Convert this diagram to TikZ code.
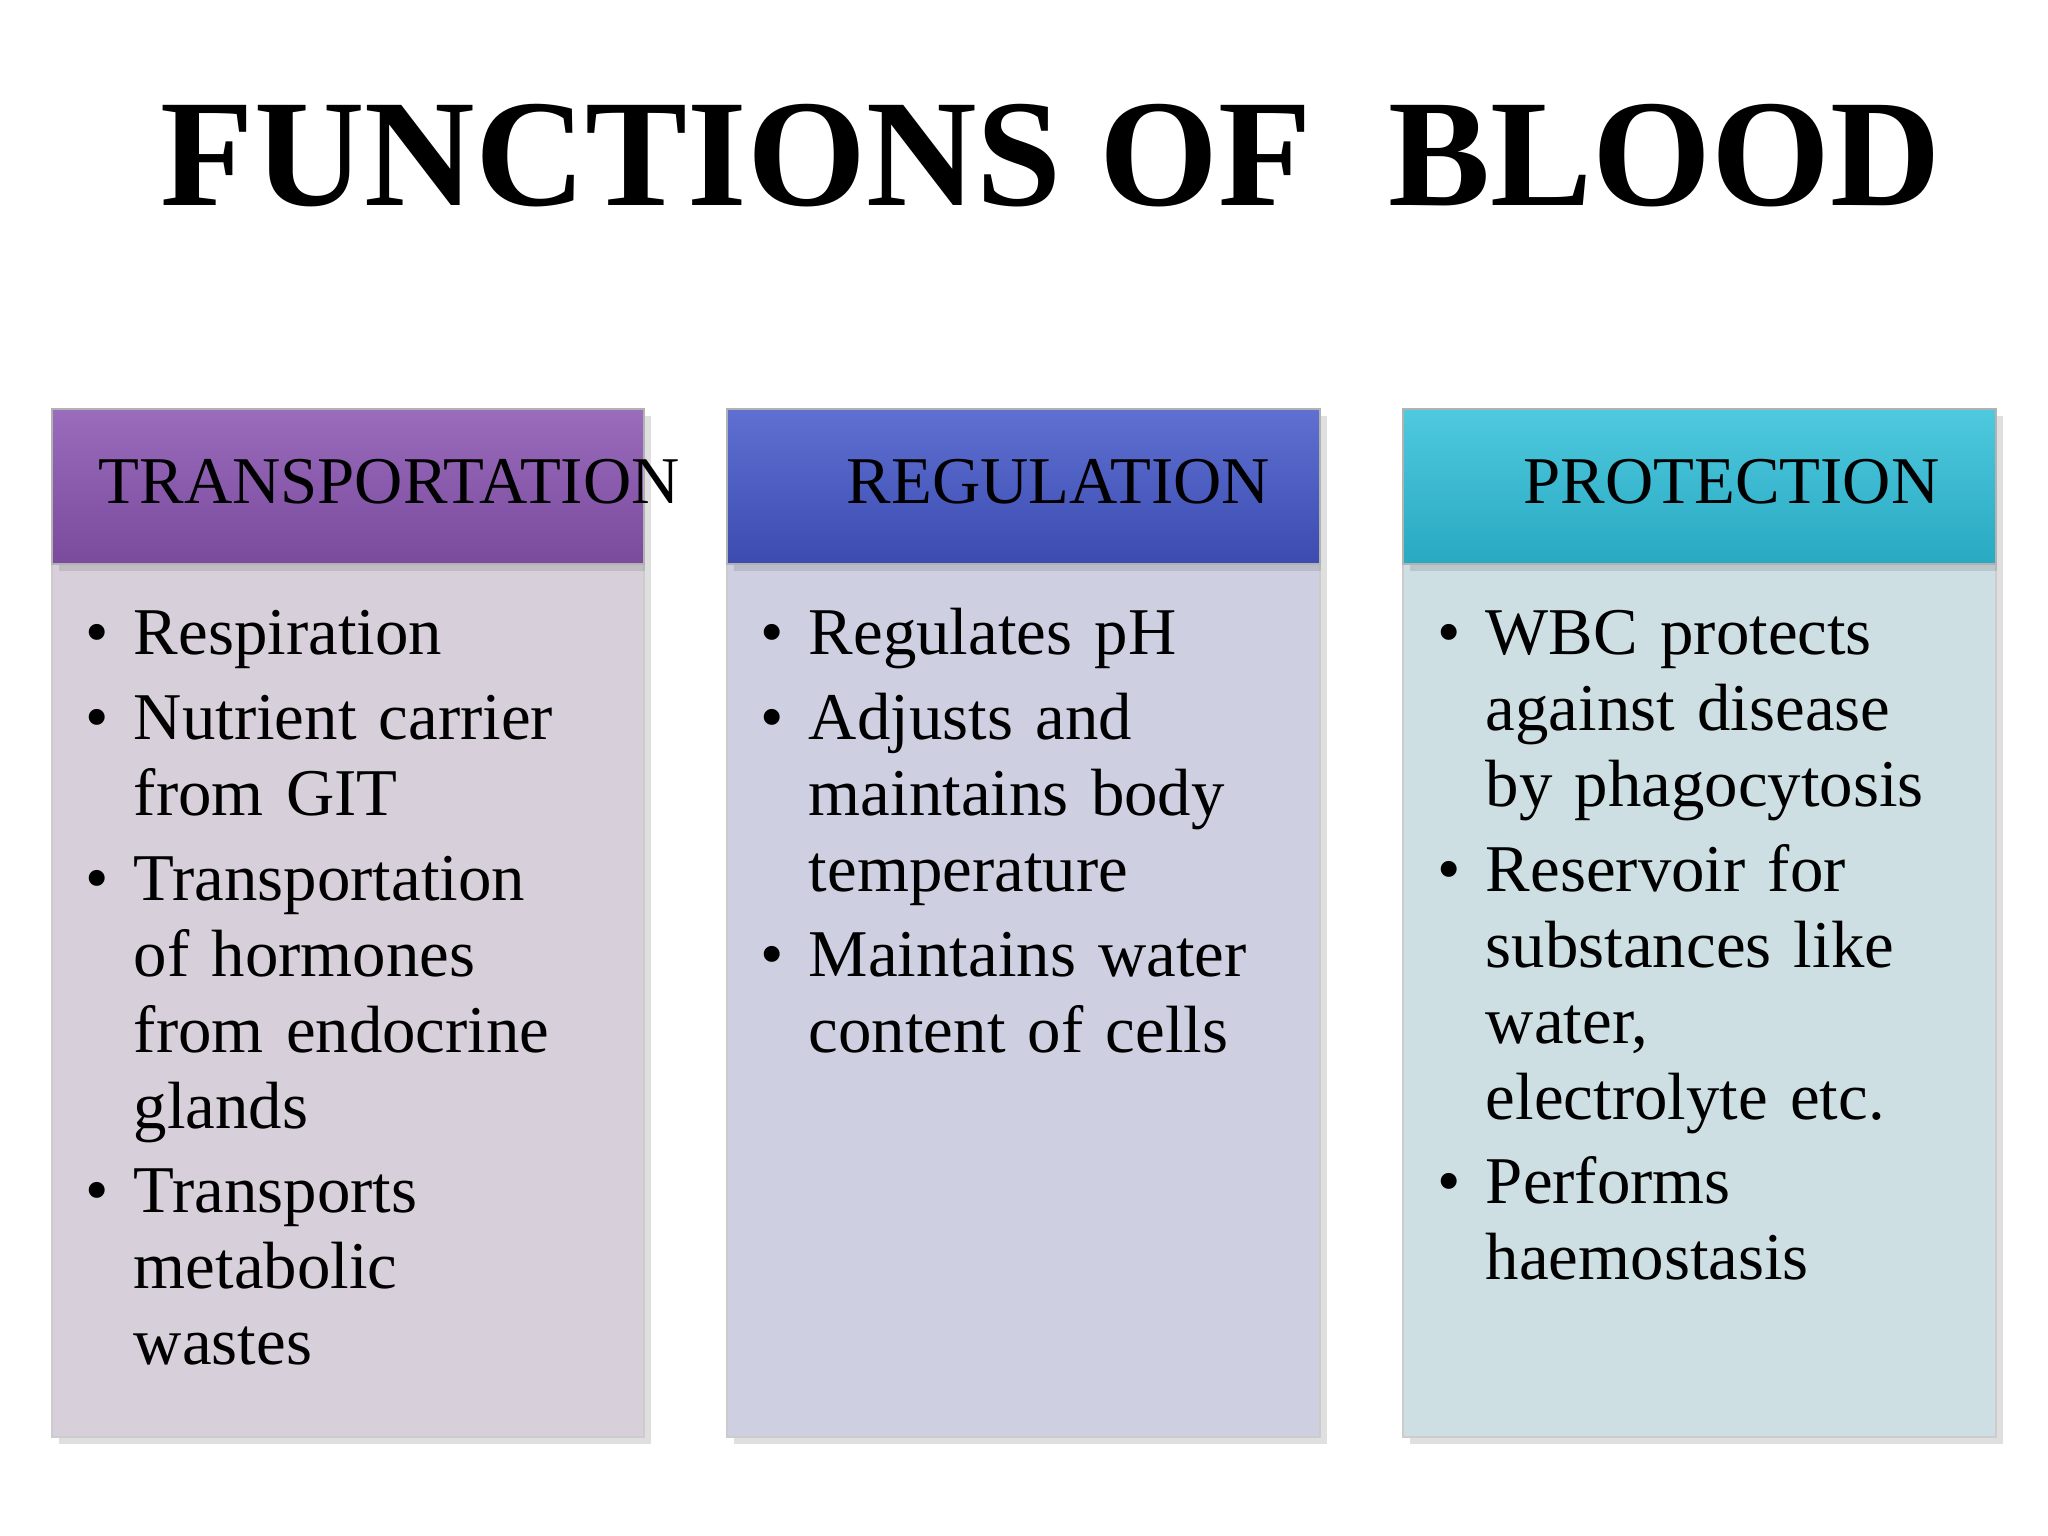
\documentclass[tikz,border=0pt]{standalone}
\usepackage{fontspec}
\setmainfont{Liberation Serif}
\usepackage{enumitem}
\usetikzlibrary{shadows}
\definecolor{h1}{HTML}{7A4A9C}\definecolor{h1t}{HTML}{9A6CBC}
\definecolor{h2}{HTML}{3B4BB0}\definecolor{h2t}{HTML}{5F70D2}
\definecolor{h3}{HTML}{28A9C2}\definecolor{h3t}{HTML}{4FC9DE}
\definecolor{b1}{HTML}{D7CFDA}\definecolor{b2}{HTML}{CED0E1}\definecolor{b3}{HTML}{CDDFE3}
\tikzset{
 hdr/.style={draw=gray!60,line width=0.6pt,drop shadow={opacity=0.25,shadow xshift=2pt,shadow yshift=-2pt}},
 bdy/.style={draw=gray!40,line width=0.6pt,drop shadow={opacity=0.25,shadow xshift=2pt,shadow yshift=-2pt}},
 htxt/.style={anchor=base west,font=\fontsize{19}{21}\selectfont,inner sep=0},
 btxt/.style={anchor=north west,inner sep=0,text width=6cm,align=left,font=\fontsize{19}{21.6}\selectfont}
}
\setlist[itemize]{leftmargin=12pt,labelsep=7pt,itemsep=2.5pt,topsep=0pt,parsep=0pt,partopsep=0pt}
\begin{document}
\begin{tikzpicture}[x=0.01cm,y=-0.01cm]
\useasboundingbox (0,0) rectangle (2048,1536);
\node[font=\fontsize{43.5}{46}\bfseries\selectfont] (title) at (1051,156) {FUNCTIONS OF~ BLOOD};
% boxes
\path[bdy,fill=b1] (52,564) rectangle (644,1437);
\path[bdy,fill=b2] (727,564) rectangle (1320,1437);
\path[bdy,fill=b3] (1403,564) rectangle (1996,1437);
\path[hdr,top color=h1t,bottom color=h1] (52,409) rectangle (644,564);
\path[hdr,top color=h2t,bottom color=h2] (727,409) rectangle (1320,564);
\path[hdr,top color=h3t,bottom color=h3] (1403,409) rectangle (1996,564);
\node[htxt] (t1) at (98,503) {TRANSPORTATION};
\node[htxt] (t2) at (846,503) {REGULATION};
\node[htxt] (t3) at (1523,503) {PROTECTION};
\node[btxt] (l1) at (91,578) {\begin{itemize}
\item Respiration
\item Nutrient carrier\\ from GIT
\item Transportation\\ of hormones\\ from endocrine\\ glands
\item Transports\\ metabolic\\ wastes
\end{itemize}};
\node[btxt] (l2) at (766,578) {\begin{itemize}
\item Regulates pH
\item Adjusts and\\ maintains body\\ temperature
\item Maintains water\\ content of cells
\end{itemize}};
\node[btxt] (l3) at (1443,578) {\begin{itemize}
\item WBC protects\\ against disease\\ by phagocytosis
\item Reservoir for\\ substances like\\ water,\\ electrolyte etc.
\item Performs\\ haemostasis
\end{itemize}};
\end{tikzpicture}
\end{document}
